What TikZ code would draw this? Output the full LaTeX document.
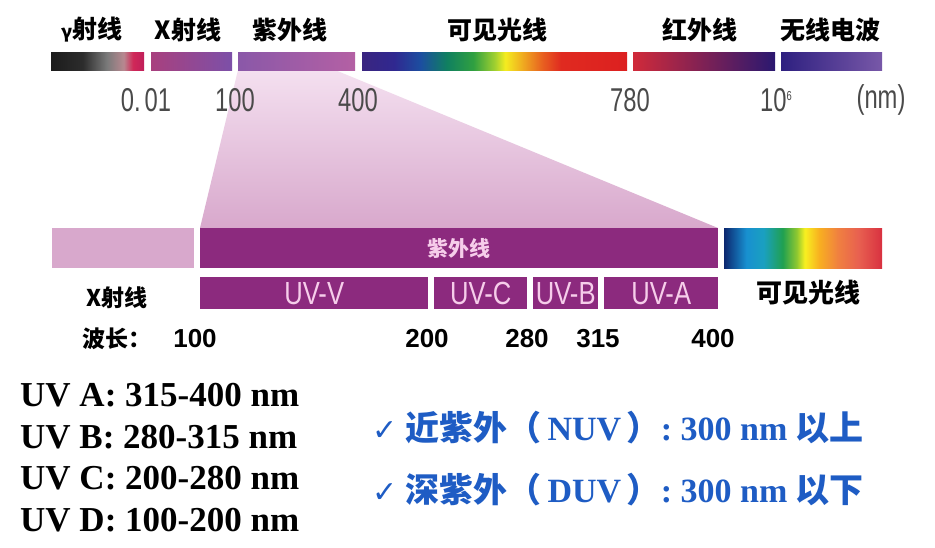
\documentclass[tikz,border=0pt]{standalone}
\usepackage{fontspec}
\usepackage{graphicx}
\setmainfont{Liberation Serif}
\setsansfont{Liberation Sans}
\newfontfamily\cjk{Noto Sans CJK SC}
\newfontfamily\dejavu{DejaVu Sans}
\newfontfamily\arialf{Liberation Sans}

\definecolor{uvpurple}{HTML}{8C2A7E}
\definecolor{uvpale}{HTML}{D8A8CC}
\definecolor{trtop}{HTML}{F4E0F0}
\definecolor{uvtxt}{HTML}{F6CDEA}
\definecolor{numgray}{HTML}{4A4A4A}
\definecolor{bluetxt}{HTML}{1E5CC4}

% gamma
\definecolor{g0}{HTML}{1C1C1C}\definecolor{g1}{HTML}{2C2C2C}\definecolor{g2}{HTML}{7A7A7A}
\definecolor{g3}{HTML}{B88890}\definecolor{g4}{HTML}{D02858}\definecolor{g5}{HTML}{C01E5A}
\pgfdeclarehorizontalshading{gamsh}{100bp}{color(0bp)=(g0); color(25bp)=(g0); color(42bp)=(g1); color(55bp)=(g2); color(64bp)=(g3); color(69bp)=(g4); color(75bp)=(g5); color(100bp)=(g5)}
% visible, top bar
\definecolor{a0}{HTML}{3A2580}\definecolor{a1}{HTML}{302890}\definecolor{a2}{HTML}{1C4EA0}
\definecolor{a3}{HTML}{108060}\definecolor{a4}{HTML}{30A040}\definecolor{a5}{HTML}{A0D030}
\definecolor{a6}{HTML}{F4EC20}\definecolor{a7}{HTML}{F0B020}\definecolor{a8}{HTML}{E86020}
\definecolor{a9}{HTML}{E02A20}\definecolor{a10}{HTML}{DC2020}
\pgfdeclarehorizontalshading{vistop}{100bp}{color(0bp)=(a0); color(25bp)=(a0); color(31bp)=(a1); color(36bp)=(a2); color(41bp)=(a3); color(46bp)=(a4); color(50bp)=(a5); color(52bp)=(a6); color(55bp)=(a7); color(59bp)=(a8); color(62.5bp)=(a9); color(75bp)=(a10); color(100bp)=(a10)}
% visible, middle bar
\definecolor{b0}{HTML}{0C2870}\definecolor{b1}{HTML}{1890D0}\definecolor{b2}{HTML}{1AA0C0}
\definecolor{b3}{HTML}{20A050}\definecolor{b4}{HTML}{90C830}\definecolor{b5}{HTML}{F8F020}
\definecolor{b6}{HTML}{F8B020}\definecolor{b7}{HTML}{F08040}\definecolor{b8}{HTML}{E86050}
\definecolor{b9}{HTML}{D83040}
\pgfdeclarehorizontalshading{vismid}{100bp}{color(0bp)=(b0); color(25bp)=(b0); color(32bp)=(b1); color(37.5bp)=(b2); color(43.5bp)=(b3); color(48bp)=(b4); color(50.5bp)=(b5); color(55bp)=(b6); color(61bp)=(b7); color(67.5bp)=(b8); color(75bp)=(b9); color(100bp)=(b9)}

\tikzset{
  topseg/.style={draw=none, minimum height=18pt, inner sep=0pt, anchor=north west},
  topl/.style={font=\cjk\bfseries\fontsize{25}{28}\selectfont, text=black},
  grnum/.style={font=\arialf\fontsize{33}{36}\selectfont, text=numgray, inner sep=0pt},
  midbar/.style={draw=none, minimum height=40pt, inner sep=0pt, anchor=north west},
  subbar/.style={fill=uvpurple, draw=none, minimum height=32pt, inner sep=0pt, anchor=north west,
     text=uvtxt, font=\arialf\fontsize{32}{34}\selectfont},
  blnum/.style={font=\arialf\bfseries\fontsize{26}{28}\selectfont, text=black, inner sep=0pt},
  uvline/.style={font=\bfseries\fontsize{35}{38}\selectfont, text=black, anchor=west, inner sep=0pt},
  blueline/.style={font=\bfseries\fontsize{34}{38}\selectfont, text=bluetxt, anchor=west, inner sep=0pt}
}

\begin{document}
\begin{tikzpicture}[x=1pt,y=-1pt]
\useasboundingbox (0,0) rectangle (935,548);
\fill[white] (0,0) rectangle (935,548);

% trapezoid (zoom funnel)
\shade[top color=trtop, bottom color=uvpale] (238,70) -- (335,70) -- (718,228) -- (200,228) -- cycle;

% top spectrum bar
\node[topseg, shade, shading=gamsh, minimum width=93pt] (gam) at (51,52) {};
\node[topseg, left color={rgb,255:red,168;green,64;blue,126}, right color={rgb,255:red,124;green,80;blue,168}, minimum width=81pt] (xray) at (151,52) {};
\node[topseg, left color={rgb,255:red,138;green,88;blue,168}, middle color={rgb,255:red,152;green,88;blue,168}, right color={rgb,255:red,180;green,96;blue,164}, minimum width=117pt] (uvtop) at (238,52) {};
\node[topseg, shade, shading=vistop, minimum width=265pt] (vistopbar) at (362,52) {};
\node[topseg, left color={rgb,255:red,208;green,42;blue,58}, middle color={rgb,255:red,138;green,32;blue,96}, right color={rgb,255:red,42;green,24;blue,112}, minimum width=142pt] (ir) at (633,52) {};
\node[topseg, left color={rgb,255:red,46;green,32;blue,128}, right color={rgb,255:red,120;green,88;blue,168}, minimum width=101pt] (radio) at (781,52) {};

% top labels
\node[topl] (lgam) at (92,30) {\fontsize{18}{20}\selectfont γ\fontsize{25}{28}\selectfont 射线};
\node[topl] (lx) at (188,30) {X射线};
\node[topl] (luv) at (290,30) {紫外线};
\node[topl] (lvis) at (497,30) {可见光线};
\node[topl] (lir) at (700,30) {红外线};
\node[topl] (lrad) at (830,30) {无线电波};

% top numbers
\node[grnum] (n001) at (146,100) {\scalebox{0.72}[1]{0.\,01}};
\node[grnum] (n100) at (235,100) {\scalebox{0.72}[1]{100}};
\node[grnum] (n400) at (358,100) {\scalebox{0.72}[1]{400}};
\node[grnum] (n780) at (630,100) {\scalebox{0.72}[1]{780}};
\node[grnum] (n1e6) at (776,100) {\scalebox{0.72}[1]{10\raisebox{11pt}{\fontsize{13}{13}\selectfont 6}}};
\node[grnum] (nnm) at (881,100) {\scalebox{0.72}[1]{(nm)}};

% middle bars
\node[midbar, fill=uvpale, minimum width=142pt] (xpale) at (52,228) {};
\node[midbar, fill=uvpurple, minimum width=518pt] (uvmid) at (200,228) {};
\node[midbar, shade, shading=vismid, minimum width=158pt] (vismidbar) at (724,228) {};
\node[font=\cjk\bfseries\fontsize{21}{24}\selectfont, text=uvtxt] (uvmidlabel) at (459,248) {紫外线};

% UV sub-bars
\node[subbar, minimum width=228pt] (uvv) at (200,277) {\scalebox{0.8}[1]{UV-V}};
\node[subbar, minimum width=93pt] (uvc) at (434,277) {\scalebox{0.8}[1]{UV-C}};
\node[subbar, minimum width=65pt] (uvb) at (533,277) {\scalebox{0.8}[1]{UV-B}};
\node[subbar, minimum width=114pt] (uva) at (604,277) {\scalebox{0.8}[1]{UV-A}};

\node[font=\cjk\bfseries\fontsize{23}{26}\selectfont] (xlabel) at (117,298) {X射线};
\node[font=\cjk\bfseries\fontsize{26}{30}\selectfont] (vislabel) at (808,293) {可见光线};

% wavelengths
\node[anchor=west, inner sep=0pt, font=\cjk\bfseries\fontsize{23}{26}\selectfont] (wl) at (82,339) {波长：};
\node[blnum] (w100) at (195,339) {100};
\node[blnum] (w200) at (427,339) {200};
\node[blnum] (w280) at (527,339) {280};
\node[blnum] (w315) at (598,339) {315};
\node[blnum] (w400) at (713,339) {400};

% bottom-left list
\node[uvline] (la) at (20,395) {UV A: 315-400 nm};
\node[uvline] (lb) at (20,437) {UV B: 280-315 nm};
\node[uvline] (lc) at (20,478) {UV C: 200-280 nm};
\node[uvline] (ld) at (20,520) {UV D: 100-200 nm};

% blue lines
\node[blueline] (nuv) at (372,428) {{\dejavu\mdseries\fontsize{30}{34}\selectfont ✓}\ {\cjk 近紫外（}\,NUV\,{\cjk ）}: 300 nm {\cjk 以上}};
\node[blueline] (duv) at (372,490) {{\dejavu\mdseries\fontsize{30}{34}\selectfont ✓}\ {\cjk 深紫外（}\,DUV\,{\cjk ）}: 300 nm {\cjk 以下}};
\end{tikzpicture}
\end{document}
